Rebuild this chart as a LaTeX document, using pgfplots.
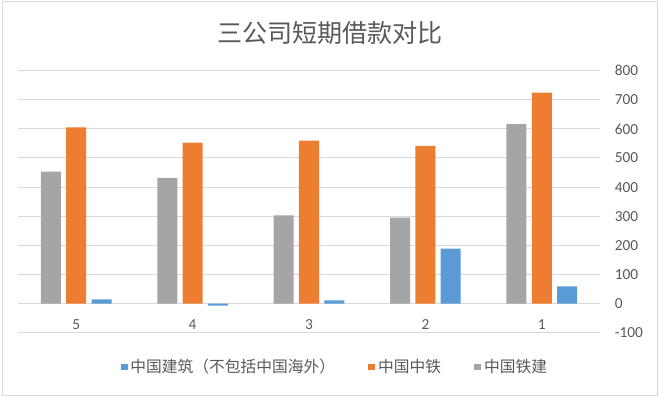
\documentclass[border=0pt]{standalone}
\usepackage{pgfplots}
\pgfplotsset{compat=1.18}
\usepackage{fontspec}
\setmainfont{Carlito}
\newfontfamily\cjk{Noto Sans CJK SC}
\definecolor{cblue}{HTML}{5B9BD5}
\definecolor{corange}{HTML}{ED7D31}
\definecolor{cgray}{HTML}{A5A5A5}
\definecolor{tgray}{HTML}{595959}
\definecolor{gridc}{HTML}{D9D9D9}
\begin{document}
\begin{tikzpicture}
\path[use as bounding box] (0pt,0pt) rectangle (495pt,298.5pt);
\draw[gridc, line width=0.75pt] (1.5pt,1.5pt) rectangle (493pt,297pt);
\node[font=\cjk\fontsize{18.8}{20}\selectfont, text=tgray] at (247.5pt,274pt) {三公司短期借款对比};
\begin{axis}[
  at={(13.5pt,49pt)}, anchor=south west,
  scale only axis, width=436.5pt, height=196.5pt,
  xmin=0.5, xmax=5.5, ymin=-100, ymax=800,
  xtick={1,2,3,4,5}, xticklabels={5,4,3,2,1},
  ytick={-100,0,100,200,300,400,500,600,700,800},
  yticklabel pos=right,
  axis line style={draw=none},
  major tick length=0pt,
  ymajorgrids, grid style={gridc, line width=0.75pt},
  /pgf/number format/assume math mode=true,
  tick label style={font=\fontsize{11.5}{13}\selectfont, text=tgray},
  yticklabel style={anchor=west, inner sep=0pt, xshift=11pt},
  xticklabel style={anchor=base, inner sep=0pt, yshift=2.5pt},
  ybar, bar width=15pt,
  legend columns=3,
  reverse legend,
  legend style={draw=none, fill=none, at={(0.545,-0.131)}, anchor=center,
    font=\cjk\fontsize{11.8}{13}\selectfont, text=tgray,
    /tikz/every even column/.append style={column sep=23pt}},
  legend image code/.code={\fill[#1] (0pt,-2.6pt) rectangle (5.3pt,2.6pt);},
]
\addplot[fill=cgray, draw=none, bar shift=-19pt] coordinates {(1,453) (2,432) (3,303) (4,295) (5,616)};
\addplot[fill=corange, draw=none, bar shift=0pt] coordinates {(1,605) (2,553) (3,560) (4,542) (5,725)};
\addplot[fill=cblue, draw=none, bar shift=19pt] coordinates {(1,14) (2,-7) (3,11) (4,189) (5,59)};
\legend{中国铁建,中国中铁,中国建筑（不包括中国海外）}
\end{axis}
\end{tikzpicture}
\end{document}
